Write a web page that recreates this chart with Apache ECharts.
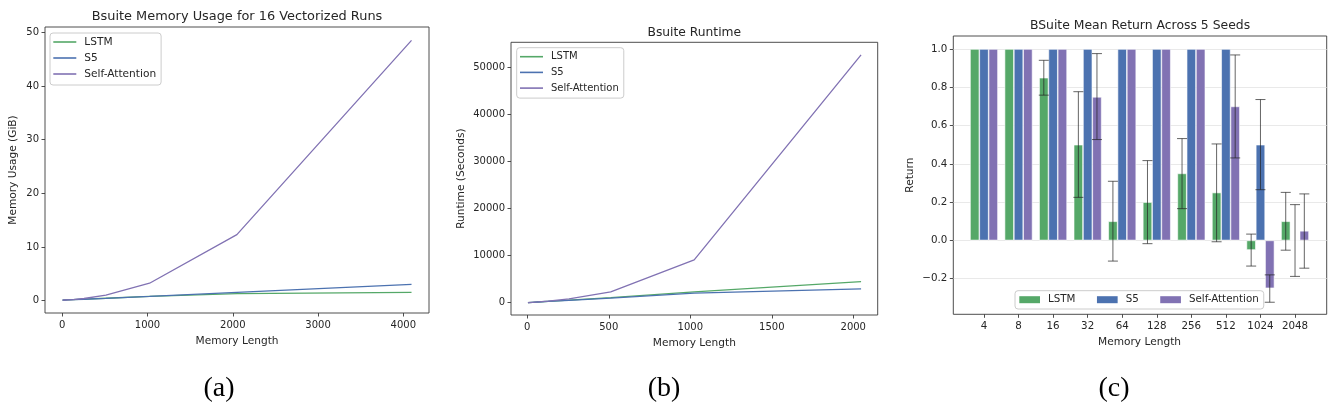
<!DOCTYPE html>
<html><head><meta charset="utf-8">
<script src="https://cdn.jsdelivr.net/npm/echarts@6/dist/echarts.min.js"></script>
<style>html,body{margin:0;padding:0;background:#fff}#c{width:1336px;height:406px}</style>
</head><body><div id="c"></div>
<script>
// ---------- Panel (a): memory usage ----------
const memLenA = [4, 8, 16, 32, 64, 128, 256, 512, 1024, 2048, 4096];
const memLSTM = [0.1, 0.1, 0.11, 0.12, 0.14, 0.18, 0.28, 0.45, 0.8, 1.3, 1.55];
const memS5   = [0.1, 0.1, 0.11, 0.12, 0.14, 0.18, 0.26, 0.42, 0.78, 1.55, 3.05];
const memSA   = [0.1, 0.1, 0.11, 0.12, 0.14, 0.2, 0.4, 1.05, 3.25, 12.3, 48.5];
const ticksAx = [0, 1000, 2000, 3000, 4000];
const ticksAy = [0, 10, 20, 30, 40, 50];

// ---------- Panel (b): runtime ----------
const memLenB = [4, 8, 16, 32, 64, 128, 256, 512, 1024, 2048];
const rtLSTM = [20, 30, 50, 90, 160, 300, 560, 1100, 2300, 4500];
const rtS5   = [20, 30, 50, 90, 160, 290, 520, 1000, 2050, 2950];
const rtSA   = [20, 30, 50, 90, 170, 350, 800, 2300, 9100, 52600];
const ticksBx = [0, 500, 1000, 1500, 2000];
const ticksBy = [0, 10000, 20000, 30000, 40000, 50000];

// ---------- Panel (c): mean return ----------
const catsC = ['4', '8', '16', '32', '64', '128', '256', '512', '1024', '2048'];
const retLSTM = [1, 1, 0.85, 0.5, 0.1, 0.2, 0.35, 0.25, -0.05, 0.1];
const retS5   = [1, 1, 1, 1, 1, 1, 1, 1, 0.5, 0];
const retSA   = [1, 1, 1, 0.75, 1, 1, 1, 0.7, -0.25, 0.05];
const loLSTM = [null, null, 0.759, 0.225, -0.108, -0.017, 0.166, -0.007, -0.134, -0.051];
const hiLSTM = [null, null, 0.941, 0.777, 0.309, 0.417, 0.532, 0.504, 0.033, 0.251];
const loS5   = [null, null, null, null, null, null, null, null, 0.265, -0.188];
const hiS5   = [null, null, null, null, null, null, null, null, 0.736, 0.187];
const loSA   = [null, null, null, 0.527, null, null, null, 0.431, -0.323, -0.145];
const hiSA   = [null, null, null, 0.976, null, null, null, 0.969, -0.18, 0.243];
const ticksCy = [-0.2, 0, 0.2, 0.4, 0.6, 0.8, 1.0];

const seriesNames = ['LSTM', 'S5', 'Self-Attention'];
const colors = ['#55a868', '#4c72b0', '#8172b3'];
const FONT = 'DejaVu Sans';
const TXT = '#262626';
const FRAME = '#3a3a3a';

const pairs = (xs, ys) => xs.map((x, i) => [x, ys[i]]);

function valueAxis(gridIndex, min, max, ticks, name, nameGap, isY, extra) {
  return Object.assign({
    type: 'value', gridIndex, min, max,
    name, nameLocation: 'middle', nameGap,
    nameRotate: isY ? 90 : 0,
    nameTextStyle: { fontFamily: FONT, fontSize: 10.6, color: TXT },
    axisLine: { show: false, onZero: false },
    axisTick: { show: true, inside: false, length: 3.5, customValues: ticks, lineStyle: { color: FRAME, width: 0.9 } },
    axisLabel: { customValues: ticks, margin: isY ? 6 : 7.5, fontFamily: FONT, fontSize: 10, color: TXT, formatter: v => String(v) },
    splitLine: { show: false }
  }, extra || {});
}

function lineSeries(name, data, xi, yi, color) {
  return {
    name, type: 'line', xAxisIndex: xi, yAxisIndex: yi, data,
    showSymbol: false, symbol: 'none', animation: false,
    lineStyle: { color, width: 1.3 }, itemStyle: { color }
  };
}

function barSeries(name, data, color) {
  return {
    name, type: 'bar', xAxisIndex: 3, yAxisIndex: 3, data,
    barWidth: 9.3, barGap: '0%', animation: false,
    itemStyle: { color, borderColor: '#ffffff', borderWidth: 0.6 }
  };
}

function errSeries(name, lo, hi, offset) {
  const data = [];
  lo.forEach((l, i) => { if (l !== null) data.push([i, l, hi[i]]); });
  return {
    name, type: 'custom', xAxisIndex: 3, yAxisIndex: 3, z: 6, silent: true, animation: false,
    encode: { x: 0, y: [1, 2] },
    data,
    renderItem(params, api) {
      const p1 = api.coord([api.value(0), api.value(1)]);
      const p2 = api.coord([api.value(0), api.value(2)]);
      const x = p1[0] + offset;
      const cap = 5;
      const st = { stroke: 'rgba(35,35,35,0.7)', lineWidth: 1 };
      return {
        type: 'group', children: [
          { type: 'line', shape: { x1: x, y1: p1[1], x2: x, y2: p2[1] }, style: st },
          { type: 'line', shape: { x1: x - cap, y1: p1[1], x2: x + cap, y2: p1[1] }, style: st },
          { type: 'line', shape: { x1: x - cap, y1: p2[1], x2: x + cap, y2: p2[1] }, style: st }
        ]
      };
    }
  };
}

const legendBase = {
  orient: 'vertical', backgroundColor: 'rgba(255,255,255,0.85)',
  borderColor: '#cccccc', borderWidth: 1, borderRadius: 3,
  icon: 'rect', itemWidth: 23, itemHeight: 1.6,
  itemStyle: { borderWidth: 0 },
  data: seriesNames, selectedMode: false
};
const legendText = size => ({ fontFamily: FONT, fontSize: size, color: TXT, lineHeight: 12, padding: [0, 0, 0, 3] });

const chart = echarts.init(document.getElementById('c'), null, { renderer: 'canvas' });
chart.setOption({
  animation: false,
  backgroundColor: '#ffffff',
  textStyle: { fontFamily: FONT },
  grid: [
    { left: 45, right: 907, top: 27, bottom: 93, show: true, borderColor: FRAME, borderWidth: 0.9, backgroundColor: 'transparent' },
    { left: 511, right: 458.3, top: 42.3, bottom: 91, show: true, borderColor: FRAME, borderWidth: 0.9, backgroundColor: 'transparent' },
    { left: 953.3, right: 9.3, top: 36, bottom: 91.7, show: true, borderColor: FRAME, borderWidth: 0.9, backgroundColor: 'transparent' },
    { left: 966.7, right: 23.7, top: 36, bottom: 91.7, show: false }
  ],
  xAxis: [
    valueAxis(0, -202, 4301, ticksAx, 'Memory Length', 22, false),
    valueAxis(1, -100, 2150, ticksBx, 'Memory Length', 21.5, false),
    { type: 'value', gridIndex: 2, min: 0, max: 1, show: false },
    {
      type: 'category', gridIndex: 3, data: catsC,
      name: 'Memory Length', nameLocation: 'middle', nameGap: 22,
      nameTextStyle: { fontFamily: FONT, fontSize: 10.6, color: TXT },
      axisLine: { show: false, onZero: false },
      axisTick: { show: true, alignWithLabel: true, inside: false, length: 3.5, lineStyle: { color: FRAME, width: 0.9 } },
      axisLabel: { margin: 7.5, interval: 0, fontFamily: FONT, fontSize: 10.3, color: TXT },
      splitLine: { show: false }
    }
  ],
  yAxis: [
    valueAxis(0, -2.3, 51.0, ticksAy, 'Memory Usage (GiB)', 26.5, true),
    valueAxis(1, -2600, 55250, ticksBy, 'Runtime (Seconds)', 44.3, true),
    valueAxis(2, -0.386, 1.068, ticksCy, 'Return', 37.3, true, {
      axisLabel: {
        customValues: ticksCy, margin: 6, fontFamily: FONT, fontSize: 10.3, color: TXT,
        formatter: v => (v < 0 ? '\u2212' : '') + Math.abs(v).toFixed(1)
      },
      splitLine: { show: true, lineStyle: { color: '#e6e6e6', width: 0.9 } }
    }),
    { type: 'value', gridIndex: 3, min: -0.386, max: 1.068, show: false, splitLine: { show: false } }
  ],
  legend: [
    Object.assign({}, legendBase, { left: 50, top: 33, itemGap: 4, padding: [3, 5, 5, 3.3], textStyle: legendText(10.6) }),
    Object.assign({}, legendBase, { left: 516.7, top: 47.7, itemGap: 3.7, padding: [3, 5, 4, 3.3], textStyle: legendText(10) }),
    Object.assign({}, legendBase, {
      orient: 'horizontal', left: 1015, top: 290.7, itemGap: 21.5,
      itemWidth: 20.7, itemHeight: 7, padding: [3, 5, 3.3, 4.3],
      textStyle: legendText(10.3)
    })
  ],
  series: [
    lineSeries('LSTM', pairs(memLenA, memLSTM), 0, 0, colors[0]),
    lineSeries('S5', pairs(memLenA, memS5), 0, 0, colors[1]),
    lineSeries('Self-Attention', pairs(memLenA, memSA), 0, 0, colors[2]),
    lineSeries('LSTM', pairs(memLenB, rtLSTM), 1, 1, colors[0]),
    lineSeries('S5', pairs(memLenB, rtS5), 1, 1, colors[1]),
    lineSeries('Self-Attention', pairs(memLenB, rtSA), 1, 1, colors[2]),
    barSeries('LSTM', retLSTM, colors[0]),
    barSeries('S5', retS5, colors[1]),
    barSeries('Self-Attention', retSA, colors[2]),
    errSeries('err-LSTM', loLSTM, hiLSTM, -9.3),
    errSeries('err-S5', loS5, hiS5, 0),
    errSeries('err-SA', loSA, hiSA, 9.3)
  ],
  graphic: [
    { type: 'text', x: 237, y: 16.7, style: { text: 'Bsuite Memory Usage for 16 Vectorized Runs', font: '12.9px "DejaVu Sans"', fill: TXT, align: 'center', verticalAlign: 'middle' } },
    { type: 'text', x: 694.3, y: 32.7, style: { text: 'Bsuite Runtime', font: '12.3px "DejaVu Sans"', fill: TXT, align: 'center', verticalAlign: 'middle' } },
    { type: 'text', x: 1140, y: 26, style: { text: 'BSuite Mean Return Across 5 Seeds', font: '12.4px "DejaVu Sans"', fill: TXT, align: 'center', verticalAlign: 'middle' } },
    { type: 'text', x: 219, y: 389, style: { text: '(a)', font: '28px "Liberation Serif"', fill: '#000', align: 'center', verticalAlign: 'middle' } },
    { type: 'text', x: 664, y: 389, style: { text: '(b)', font: '28px "Liberation Serif"', fill: '#000', align: 'center', verticalAlign: 'middle' } },
    { type: 'text', x: 1114, y: 389, style: { text: '(c)', font: '28px "Liberation Serif"', fill: '#000', align: 'center', verticalAlign: 'middle' } }
  ]
});
</script>
</body></html>
